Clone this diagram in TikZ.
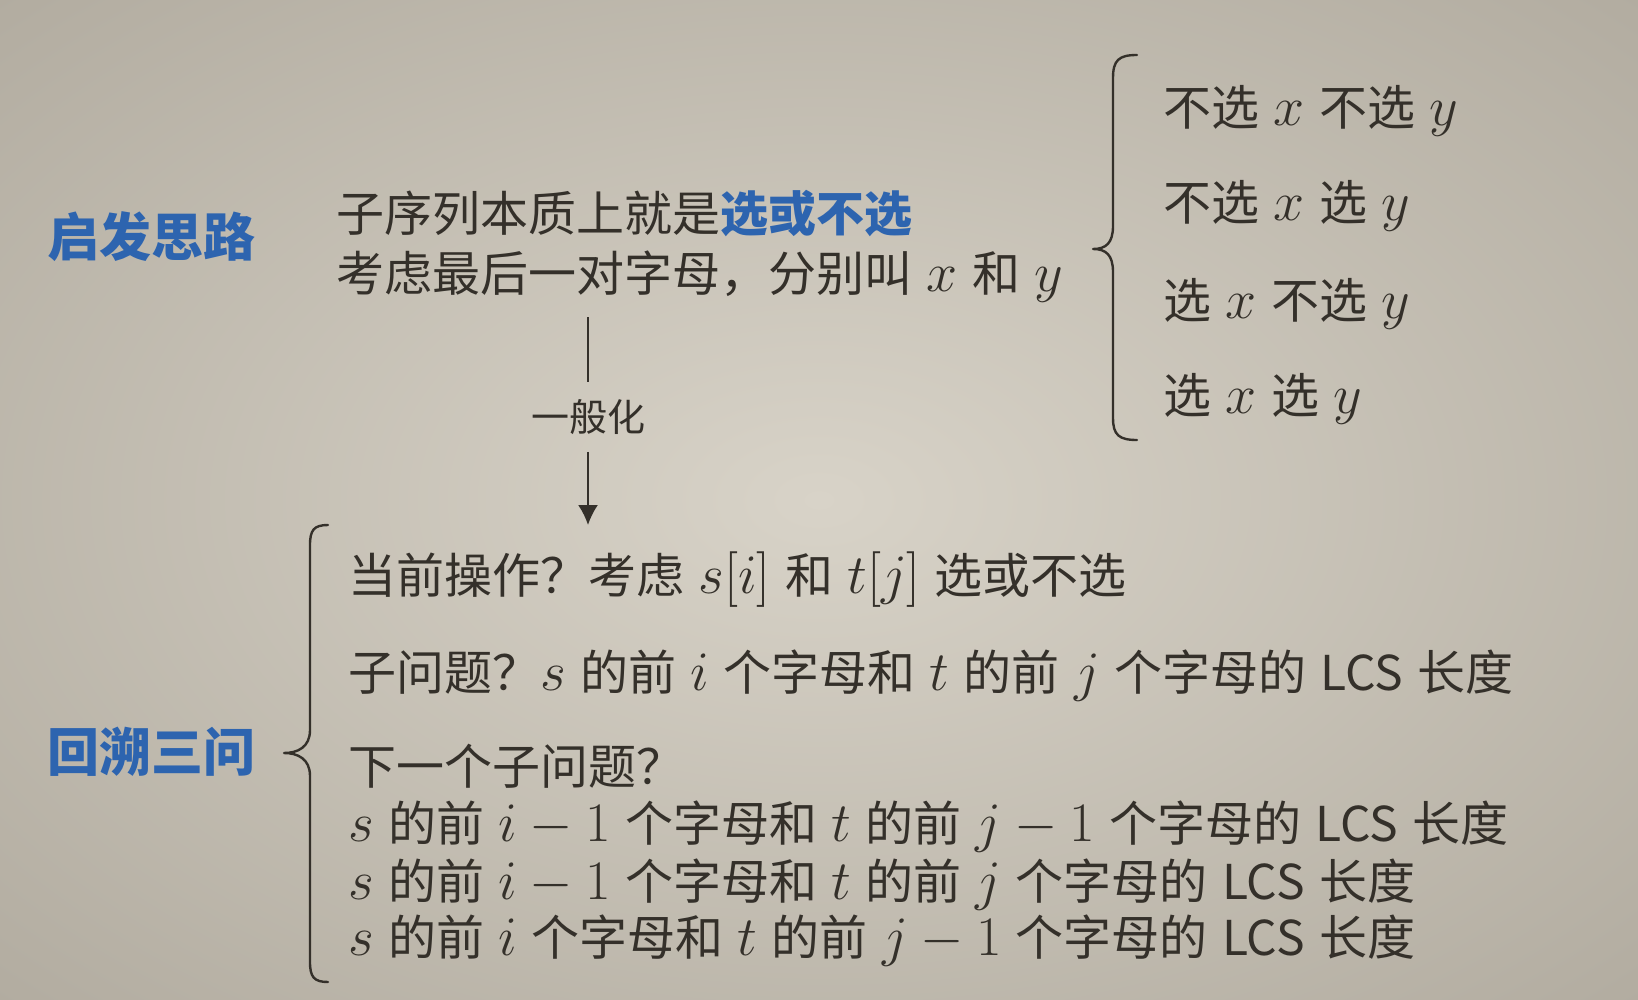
\documentclass[tikz,border=0pt]{standalone}
\usepackage{fontspec}
\setmainfont{Noto Sans CJK SC}[WordSpace=1.33]
\usetikzlibrary{arrows.meta}
\definecolor{ink}{RGB}{52,48,42}
\definecolor{hblue}{RGB}{45,100,175}
\definecolor{bgin}{RGB}{216,211,200}
\definecolor{bgout}{RGB}{176,170,158}
\newcommand\mm[1]{\scalebox{1.12}{$#1$}}
\begin{document}
\begin{tikzpicture}[x=0.5pt,y=-0.5pt,
  txt/.style={anchor=base west, inner sep=0pt, text=ink, font=\fontsize{24}{28}\selectfont},
  ttl/.style={anchor=center, inner sep=0pt, text=hblue, font=\fontsize{26}{30}\selectfont\bfseries},
  genlabel/.style={inner xsep=0pt, inner ysep=8.5pt, text=ink, font=\fontsize{19}{22}\selectfont},
  brace/.style={draw=ink, line width=1.2pt, line cap=round, line join=round},
  conn/.style={draw=ink, line width=1pt}]
\useasboundingbox (0,0) rectangle (1638,1000);
\begin{scope}
\clip (0,0) rectangle (1638,1000);
\shade[inner color=bgin, outer color=bgout] (-400,-250) rectangle (2038,1250);
\end{scope}

% titles
\node[ttl] (t1) at (151,237) {启发思路};
\node[ttl] (t2) at (151,752) {回溯三问};

% top text
\node[txt] (l1) at (336,232) {子序列本质上就是{\color{hblue}\bfseries 选或不选}};
\node[txt] (l2) at (336,292) {考虑最后一对字母，分别叫 \mm{x} 和 \mm{y}};

% right brace and items
\draw[brace] (1137,55) .. controls (1119,55) and (1113,60) .. (1113,78) -- (1113,226)
  .. controls (1113,243) and (1106,249) .. (1093,249)
  .. controls (1106,249) and (1113,255) .. (1113,272) -- (1113,418)
  .. controls (1113,435) and (1119,440) .. (1137,440);
\node[txt] (r1) at (1163,126) {不选 \mm{x} 不选 \mm{y}};
\node[txt] (r2) at (1163,221) {不选 \mm{x} 选 \mm{y}};
\node[txt] (r3) at (1163,318) {选 \mm{x} 不选 \mm{y}};
\node[txt] (r4) at (1163,413) {选 \mm{x} 选 \mm{y}};

% generalisation arrow
\coordinate (gtop) at (588,317);
\node[genlabel] (gen) at (588,417) {一般化};
\coordinate (gbot) at (588,525);
\draw[conn] (gtop) -- (gen.north);
\draw[conn, -{Latex[length=10pt,width=10pt]}] (gen.south) -- (gbot);

% bottom brace and items
\draw[brace] (328,525) .. controls (314,525) and (310,530) .. (310,545) -- (310,730)
  .. controls (310,747) and (298,753) .. (284,753)
  .. controls (298,753) and (310,759) .. (310,776) -- (310,962)
  .. controls (310,977) and (314,982) .. (328,982);
\node[txt] (b1) at (348,593) {当前操作？考虑 \mm{s[i]} 和 \mm{t[j]} 选或不选};
\node[txt] (b2) at (348,690) {子问题？\mm{s} 的前 \mm{i} 个字母和 \mm{t} 的前 \mm{j} 个字母的 LCS 长度};
\node[txt] (b3) at (348,784) {下一个子问题？};
\node[txt] (b4) at (348,841) {\mm{s} 的前 \mm{i-1} 个字母和 \mm{t} 的前 \mm{j-1} 个字母的 LCS 长度};
\node[txt] (b5) at (348,899) {\mm{s} 的前 \mm{i-1} 个字母和 \mm{t} 的前 \mm{j} 个字母的 LCS 长度};
\node[txt] (b6) at (348,955) {\mm{s} 的前 \mm{i} 个字母和 \mm{t} 的前 \mm{j-1} 个字母的 LCS 长度};
\end{tikzpicture}
\end{document}
